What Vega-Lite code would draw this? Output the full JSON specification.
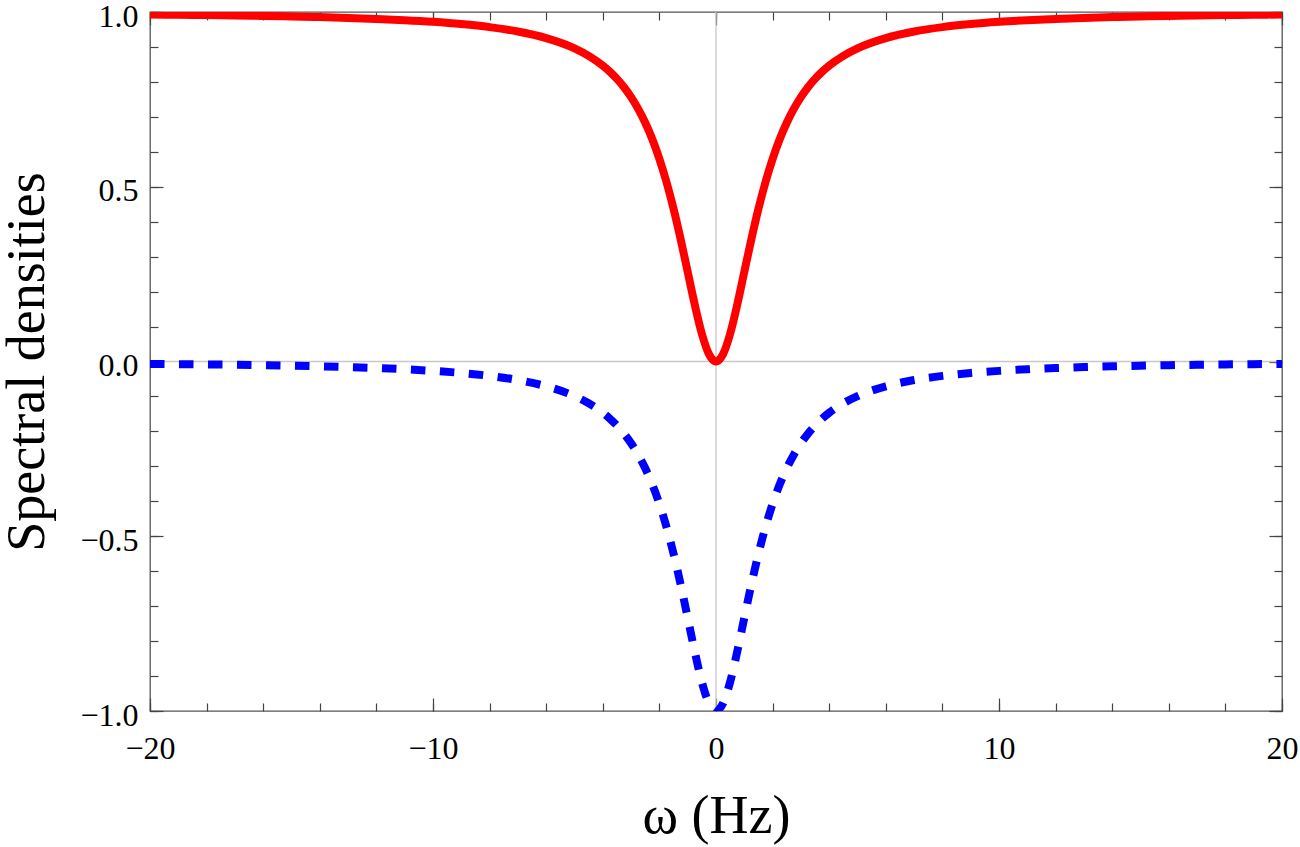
{
  "$schema": "https://vega.github.io/schema/vega-lite/v6.json",
  "width": 1132,
  "height": 699,
  "autosize": {"type": "none"},
  "padding": {"left": 150, "top": 12, "right": 18, "bottom": 136},
  "background": "white",
  "config": {
    "view": {"stroke": "#555555", "strokeWidth": 1.3},
    "axis": {
      "domain": false,
      "grid": false,
      "labelFont": "Liberation Serif",
      "labelFontSize": 32,
      "labelColor": "black",
      "titleFont": "Liberation Serif",
      "titleFontSize": 54,
      "titleFontWeight": "normal",
      "titleColor": "black",
      "tickColor": "#444444",
      "tickWidth": 1.2,
      "labelFlush": false,
      "labelOverlap": false,
      "zindex": 1
    }
  },
  "data": {
    "values": [
      {"w": -20, "r": 0.9928, "b": -0.0068},
      {"w": -19, "r": 0.992, "b": -0.0076},
      {"w": -18, "r": 0.9911, "b": -0.0084},
      {"w": -17, "r": 0.9901, "b": -0.0094},
      {"w": -16, "r": 0.9888, "b": -0.0106},
      {"w": -15, "r": 0.9873, "b": -0.0121},
      {"w": -14, "r": 0.9854, "b": -0.0138},
      {"w": -13, "r": 0.9831, "b": -0.016},
      {"w": -12, "r": 0.9803, "b": -0.0187},
      {"w": -11, "r": 0.9766, "b": -0.0222},
      {"w": -10, "r": 0.9718, "b": -0.0268},
      {"w": -9, "r": 0.9654, "b": -0.0328},
      {"w": -8, "r": 0.9567, "b": -0.0412},
      {"w": -7, "r": 0.9441, "b": -0.0531},
      {"w": -6, "r": 0.9254, "b": -0.071},
      {"w": -5, "r": 0.8961, "b": -0.0991},
      {"w": -4.5, "r": 0.8747, "b": -0.1196},
      {"w": -4, "r": 0.8466, "b": -0.1467},
      {"w": -3.75, "r": 0.829, "b": -0.1636},
      {"w": -3.5, "r": 0.8086, "b": -0.1833},
      {"w": -3.25, "r": 0.7846, "b": -0.2066},
      {"w": -3, "r": 0.7563, "b": -0.234},
      {"w": -2.75, "r": 0.7228, "b": -0.2667},
      {"w": -2.5, "r": 0.6831, "b": -0.3056},
      {"w": -2.25, "r": 0.6358, "b": -0.352},
      {"w": -2, "r": 0.5797, "b": -0.4074},
      {"w": -1.75, "r": 0.5136, "b": -0.4731},
      {"w": -1.5, "r": 0.4369, "b": -0.55},
      {"w": -1.25, "r": 0.3501, "b": -0.6377},
      {"w": -1, "r": 0.2564, "b": -0.7333},
      {"w": -0.75, "r": 0.1625, "b": -0.8302},
      {"w": -0.5, "r": 0.0794, "b": -0.9167},
      {"w": -0.25, "r": 0.0211, "b": -0.9778},
      {"w": 0, "r": 0, "b": -1},
      {"w": 0.25, "r": 0.0211, "b": -0.9778},
      {"w": 0.5, "r": 0.0794, "b": -0.9167},
      {"w": 0.75, "r": 0.1625, "b": -0.8302},
      {"w": 1, "r": 0.2564, "b": -0.7333},
      {"w": 1.25, "r": 0.3501, "b": -0.6377},
      {"w": 1.5, "r": 0.4369, "b": -0.55},
      {"w": 1.75, "r": 0.5136, "b": -0.4731},
      {"w": 2, "r": 0.5797, "b": -0.4074},
      {"w": 2.25, "r": 0.6358, "b": -0.352},
      {"w": 2.5, "r": 0.6831, "b": -0.3056},
      {"w": 2.75, "r": 0.7228, "b": -0.2667},
      {"w": 3, "r": 0.7563, "b": -0.234},
      {"w": 3.25, "r": 0.7846, "b": -0.2066},
      {"w": 3.5, "r": 0.8086, "b": -0.1833},
      {"w": 3.75, "r": 0.829, "b": -0.1636},
      {"w": 4, "r": 0.8466, "b": -0.1467},
      {"w": 4.5, "r": 0.8747, "b": -0.1196},
      {"w": 5, "r": 0.8961, "b": -0.0991},
      {"w": 6, "r": 0.9254, "b": -0.071},
      {"w": 7, "r": 0.9441, "b": -0.0531},
      {"w": 8, "r": 0.9567, "b": -0.0412},
      {"w": 9, "r": 0.9654, "b": -0.0328},
      {"w": 10, "r": 0.9718, "b": -0.0268},
      {"w": 11, "r": 0.9766, "b": -0.0222},
      {"w": 12, "r": 0.9803, "b": -0.0187},
      {"w": 13, "r": 0.9831, "b": -0.016},
      {"w": 14, "r": 0.9854, "b": -0.0138},
      {"w": 15, "r": 0.9873, "b": -0.0121},
      {"w": 16, "r": 0.9888, "b": -0.0106},
      {"w": 17, "r": 0.9901, "b": -0.0094},
      {"w": 18, "r": 0.9911, "b": -0.0084},
      {"w": 19, "r": 0.992, "b": -0.0076},
      {"w": 20, "r": 0.9928, "b": -0.0068}
    ]
  },
  "resolve": {"axis": {"x": "independent", "y": "independent"}},
  "layer": [
    {
      "data": {"values": [{"x0": 0}]},
      "mark": {"type": "rule", "color": "#c8c8c8", "strokeWidth": 1.3},
      "encoding": {
        "x": {
          "field": "x0", "type": "quantitative",
          "scale": {"domain": [-20, 20], "nice": false, "zero": false},
          "axis": {"orient": "top", "values": [-20, -10, 0, 10, 20], "tickSize": -13, "labels": false, "title": null}
        }
      }
    },
    {
      "data": {"values": [{"y0": 0}]},
      "mark": {"type": "rule", "color": "#c8c8c8", "strokeWidth": 1.3},
      "encoding": {
        "y": {
          "field": "y0", "type": "quantitative",
          "scale": {"domain": [-1, 1], "nice": false, "zero": false},
          "axis": {"orient": "right", "values": [-1, -0.5, 0, 0.5, 1], "tickSize": -13, "labels": false, "title": null}
        }
      }
    },
    {
      "mark": {"type": "line", "color": "#0000ff", "strokeWidth": 8, "strokeDash": [14.5, 14.5], "strokeCap": "butt", "interpolate": "monotone", "clip": true},
      "encoding": {
        "x": {
          "field": "w", "type": "quantitative",
          "scale": {"domain": [-20, 20], "nice": false, "zero": false},
          "axis": {"orient": "bottom", "values": [-20, -18, -16, -14, -12, -10, -8, -6, -4, -2, 0, 2, 4, 6, 8, 10, 12, 14, 16, 18, 20], "tickSize": -8, "labels": false, "title": null}
        },
        "y": {
          "field": "b", "type": "quantitative",
          "scale": {"domain": [-1, 1], "nice": false, "zero": false},
          "axis": {"orient": "left", "values": [-1, -0.9, -0.8, -0.7, -0.6, -0.5, -0.4, -0.3, -0.2, -0.1, 0, 0.1, 0.2, 0.3, 0.4, 0.5, 0.6, 0.7, 0.8, 0.9, 1], "tickSize": -8, "labels": false, "title": null}
        }
      }
    },
    {
      "mark": {"type": "line", "color": "#ff0000", "strokeWidth": 8, "interpolate": "monotone", "clip": true},
      "encoding": {
        "x": {
          "field": "w", "type": "quantitative",
          "scale": {"domain": [-20, 20], "nice": false, "zero": false},
          "axis": {"orient": "bottom", "values": [-20, -10, 0, 10, 20], "format": "d", "tickSize": -13, "labelPadding": 35, "title": "ω (Hz)", "titleX": 566, "titleY": 121, "titleBaseline": "alphabetic", "titleAlign": "center"}
        },
        "y": {
          "field": "r", "type": "quantitative",
          "scale": {"domain": [-1, 1], "nice": false, "zero": false},
          "axis": {"orient": "left", "values": [-1, -0.5, 0, 0.5, 1], "format": ".1f", "tickSize": -13, "labelPadding": 25, "labelOffset": 4, "title": "Spectral densities", "titleX": -107, "titleY": 349.5, "titleAngle": 270, "titleBaseline": "alphabetic", "titleAlign": "center"}
        }
      }
    },
    {
      "mark": {"type": "line", "color": "#ff0000", "strokeWidth": 1, "opacity": 0},
      "encoding": {
        "x": {
          "field": "w", "type": "quantitative",
          "scale": {"domain": [-20, 20], "nice": false, "zero": false},
          "axis": {"orient": "top", "values": [-20, -18, -16, -14, -12, -10, -8, -6, -4, -2, 0, 2, 4, 6, 8, 10, 12, 14, 16, 18, 20], "tickSize": -8, "labels": false, "title": null}
        },
        "y": {
          "field": "r", "type": "quantitative",
          "scale": {"domain": [-1, 1], "nice": false, "zero": false},
          "axis": {"orient": "right", "values": [-1, -0.9, -0.8, -0.7, -0.6, -0.5, -0.4, -0.3, -0.2, -0.1, 0, 0.1, 0.2, 0.3, 0.4, 0.5, 0.6, 0.7, 0.8, 0.9, 1], "tickSize": -8, "labels": false, "title": null}
        }
      }
    }
  ]
}
